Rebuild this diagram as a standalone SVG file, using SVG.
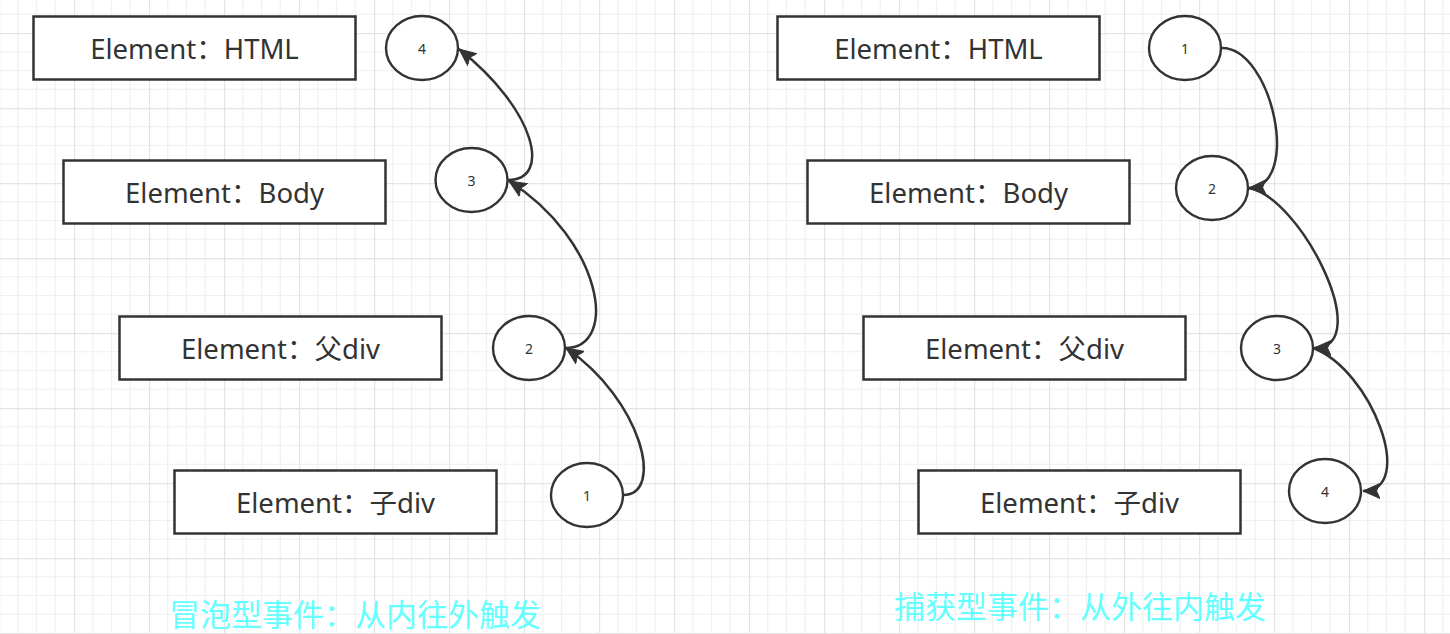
<svg xmlns="http://www.w3.org/2000/svg" width="1450" height="634" viewBox="0 0 1450 634">
  <style>
    .box { fill: #ffffff; stroke: #333333; stroke-width: 2.5; }
    .btxt { font-family: "Noto Sans", "Noto Sans CJK SC", sans-serif; font-size: 27.5px; fill: #333333; text-anchor: middle; dominant-baseline: central; }
    .circ { fill: #ffffff; stroke: #333333; stroke-width: 2.4; }
    .ctxt { font-family: "Noto Sans", "Liberation Sans", sans-serif; font-size: 14px; fill: #333333; text-anchor: middle; dominant-baseline: central; }
    .edge { fill: none; stroke: #333333; stroke-width: 2.5; }
    .cap { font-family: "Noto Sans CJK SC", sans-serif; font-size: 31px; fill: #66FFFF; text-anchor: middle; dominant-baseline: central; }
  </style>
  <defs>
    <pattern id="grid" x="-1" y="33" width="75" height="75" patternUnits="userSpaceOnUse">
      <path d="M18.75 0V75M37.5 0V75M56.25 0V75M0 18.75H75M0 37.5H75M0 56.25H75" stroke="#f0f0f0" stroke-width="1.2" fill="none"/>
      <path d="M0.5 0V75M0 0.5H75" stroke="#e4e4e4" stroke-width="1.4" fill="none"/>
    </pattern>
    <marker id="arr" markerWidth="20" markerHeight="18" refX="17" refY="9" orient="auto" markerUnits="userSpaceOnUse">
      <path d="M0,1.5 L17,9 L0,16.5 L3.5,9 Z" fill="#333333" stroke="#333333" stroke-width="1" stroke-linejoin="miter"/>
    </marker>
  </defs>
  <rect x="0" y="0" width="1450" height="634" fill="#ffffff"/>
  <rect x="0" y="0" width="1450" height="634" fill="url(#grid)"/>

  <g id="l-html"><rect class="box" x="33.5" y="16.5" width="322" height="63"/><text class="btxt" x="194.5" y="48">Element：HTML</text></g>
  <g id="l-body"><rect class="box" x="63.5" y="160.5" width="322" height="63"/><text class="btxt" x="224.5" y="192">Element：Body</text></g>
  <g id="l-parent"><rect class="box" x="119.5" y="316.5" width="322" height="63"/><text class="btxt" x="280.5" y="348">Element：父div</text></g>
  <g id="l-child"><rect class="box" x="174.5" y="470.5" width="322" height="63"/><text class="btxt" x="335.5" y="502">Element：子div</text></g>

  <g id="l-c4"><ellipse class="circ" cx="422" cy="48" rx="36" ry="32"/><text class="ctxt" x="422" y="48">4</text></g>
  <g id="l-c3"><ellipse class="circ" cx="471.5" cy="180" rx="36" ry="32"/><text class="ctxt" x="471.5" y="180">3</text></g>
  <g id="l-c2"><ellipse class="circ" cx="529" cy="348" rx="36" ry="32"/><text class="ctxt" x="529" y="348">2</text></g>
  <g id="l-c1"><ellipse class="circ" cx="587" cy="495" rx="36" ry="32"/><text class="ctxt" x="587" y="495">1</text></g>

  <g id="r-html"><rect class="box" x="777.5" y="16.5" width="322" height="63"/><text class="btxt" x="938.5" y="48">Element：HTML</text></g>
  <g id="r-body"><rect class="box" x="807.5" y="160.5" width="322" height="63"/><text class="btxt" x="968.5" y="192">Element：Body</text></g>
  <g id="r-parent"><rect class="box" x="863.5" y="316.5" width="322" height="63"/><text class="btxt" x="1024.5" y="348">Element：父div</text></g>
  <g id="r-child"><rect class="box" x="918.5" y="470.5" width="322" height="63"/><text class="btxt" x="1079.5" y="502">Element：子div</text></g>

  <g id="r-c1"><ellipse class="circ" cx="1185" cy="48" rx="36" ry="32"/><text class="ctxt" x="1185" y="48">1</text></g>
  <g id="r-c2"><ellipse class="circ" cx="1212" cy="188" rx="36" ry="32"/><text class="ctxt" x="1212" y="188">2</text></g>
  <g id="r-c3"><ellipse class="circ" cx="1277" cy="348" rx="36" ry="32"/><text class="ctxt" x="1277" y="348">3</text></g>
  <g id="r-c4"><ellipse class="circ" cx="1325" cy="491" rx="36" ry="32"/><text class="ctxt" x="1325" y="491">4</text></g>

  <g id="connectors">
    <path class="edge" d="M623,495 C665,495 642,400 566,348" marker-end="url(#arr)"/>
    <path class="edge" d="M565,348 C620,348 602,240 509,181" marker-end="url(#arr)"/>
    <path class="edge" d="M508,180 C552,180 536,110 459,49" marker-end="url(#arr)"/>
    <path class="edge" d="M1222,48 C1272,48 1302,186 1249,188" marker-end="url(#arr)"/>
    <path class="edge" d="M1248,188 C1300,195 1377,348 1314,348" marker-end="url(#arr)"/>
    <path class="edge" d="M1313,348 C1372,370 1417,491 1363,491" marker-end="url(#arr)"/>
  </g>

  <g id="cap-left"><text class="cap" x="355" y="612">冒泡型事件：从内往外触发</text></g>
  <g id="cap-right"><text class="cap" x="1080" y="604">捕获型事件：从外往内触发</text></g>
</svg>
